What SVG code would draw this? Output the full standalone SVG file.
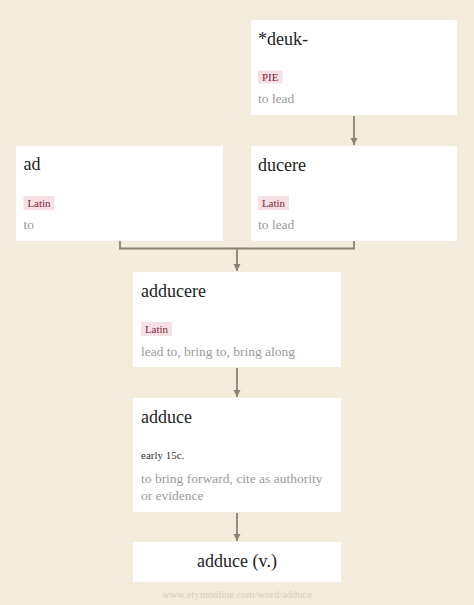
<svg xmlns="http://www.w3.org/2000/svg" width="474" height="605" viewBox="0 0 474 605">
<style>
.box{fill:#ffffff}
.title{font-family:"Liberation Serif","DejaVu Serif",serif;font-size:18px;fill:#222222}
.badge{fill:#f6e0e4}
.btxt{font-family:"Liberation Serif","DejaVu Serif",serif;font-size:11px;fill:#7d2440}
.desc{font-family:"Liberation Serif","DejaVu Serif",serif;font-size:13.5px;fill:#9a9a9a}
.date{font-family:"Liberation Serif","DejaVu Serif",serif;font-size:11px;fill:#333333}
.conn{fill:none;stroke:#8a8272;stroke-width:1.8}
.foot{font-family:"Liberation Serif","DejaVu Serif",serif;font-size:10.5px;fill:#d6cfbf}
</style>
<defs>
<marker id="arr" viewBox="0 0 10 10" refX="10" refY="5" markerWidth="4" markerHeight="4" orient="auto" markerUnits="strokeWidth">
<path d="M0,0 L10,5 L0,10 z" fill="#8a8272"/>
</marker>
</defs>
<rect width="474" height="605" fill="#f3ecdc"/>
<g id="connectors">
<path class="conn" d="M354,116 V145" marker-end="url(#arr)"/>
<path class="conn" d="M120,241 V248.5 H354 V241"/>
<path class="conn" d="M237,248.5 V271" marker-end="url(#arr)"/>
<path class="conn" d="M237,368 V397" marker-end="url(#arr)"/>
<path class="conn" d="M237,513 V541" marker-end="url(#arr)"/>
</g>
<g id="node-deuk">
<rect class="box" x="251" y="20" width="206" height="95"/>
<text class="title" x="258" y="45">*deuk-</text>
<rect class="badge" x="258" y="70.5" width="24.5" height="13"/>
<text class="btxt" x="270.2" y="81" text-anchor="middle">PIE</text>
<text class="desc" x="258" y="103">to lead</text>
</g>
<g id="node-ad">
<rect class="box" x="16" y="146" width="207" height="95"/>
<text class="title" x="23.5" y="170">ad</text>
<rect class="badge" x="23.5" y="196" width="31" height="14"/>
<text class="btxt" x="39" y="207" text-anchor="middle">Latin</text>
<text class="desc" x="23.5" y="229">to</text>
</g>
<g id="node-ducere">
<rect class="box" x="251" y="146" width="206" height="95"/>
<text class="title" x="258" y="170.5">ducere</text>
<rect class="badge" x="258" y="196" width="31" height="14"/>
<text class="btxt" x="273.5" y="207" text-anchor="middle">Latin</text>
<text class="desc" x="258" y="229">to lead</text>
</g>
<g id="node-adducere">
<rect class="box" x="133" y="272" width="208" height="95"/>
<text class="title" x="141" y="296.5">adducere</text>
<rect class="badge" x="141" y="322" width="31" height="14"/>
<text class="btxt" x="156.5" y="333" text-anchor="middle">Latin</text>
<text class="desc" x="141" y="356">lead to, bring to, bring along</text>
</g>
<g id="node-adduce">
<rect class="box" x="133" y="398" width="208" height="114"/>
<text class="title" x="141" y="422.5">adduce</text>
<text class="date" x="141" y="459">early 15c.</text>
<text class="desc" x="141" y="482.5">to bring forward, cite as authority</text>
<text class="desc" x="141" y="500">or evidence</text>
</g>
<g id="node-adduce-v">
<rect class="box" x="133" y="542" width="208" height="40"/>
<text class="title" x="237" y="566.5" text-anchor="middle">adduce (v.)</text>
</g>
<text class="foot" x="237" y="598" text-anchor="middle">www.etymonline.com/word/adduce</text>
</svg>
